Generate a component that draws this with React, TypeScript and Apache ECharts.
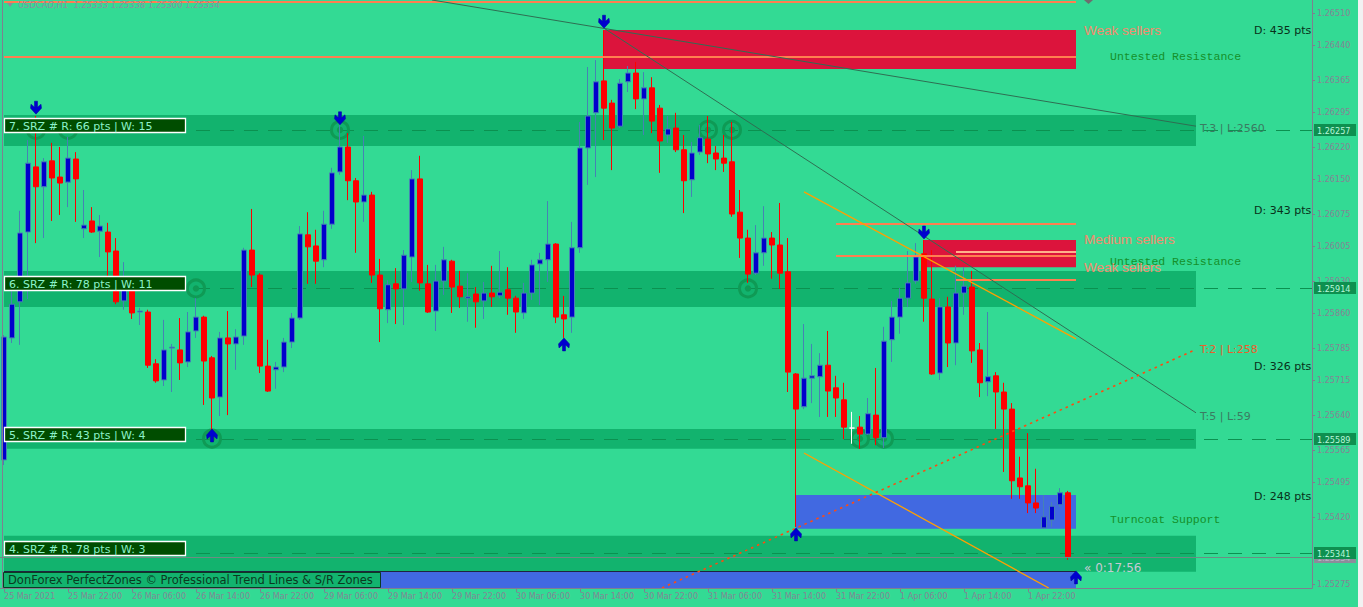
import React, { useEffect, useRef } from 'react';
import * as echarts from 'echarts';

// ---------- data ----------
const timeLabels = ['25 Mar 2021', '25 Mar 22:00', '26 Mar 06:00', '26 Mar 14:00', '26 Mar 22:00', '29 Mar 06:00', '29 Mar 14:00', '29 Mar 22:00', '30 Mar 06:00', '30 Mar 14:00', '30 Mar 22:00', '31 Mar 06:00', '31 Mar 14:00', '31 Mar 22:00', '1 Apr 06:00', '1 Apr 14:00', '1 Apr 22:00'];

const opens = [
  1.25543, 1.25807, 1.25885, 1.26036, 1.26177, 1.26134, 1.26190, 1.26155, 1.26144, 1.26194,
  1.26043, 1.26060, 1.26038, 1.26036, 1.25995, 1.25887, 1.25911, 1.25863, 1.25863, 1.25751,
  1.25716, 1.25785, 1.25781, 1.25755, 1.25822, 1.25852, 1.25764, 1.25679, 1.25807, 1.25794,
  1.25811, 1.25997, 1.25943, 1.25746, 1.25738, 1.25744, 1.25798, 1.25850, 1.26030, 1.26006,
  1.25976, 1.26053, 1.26166, 1.26220, 1.26147, 1.26101, 1.26116, 1.25943, 1.25868, 1.25924,
  1.25913, 1.25982, 1.26151, 1.25924, 1.25865, 1.25930, 1.25973, 1.25919, 1.25893, 1.25902,
  1.25887, 1.25904, 1.25898, 1.25911, 1.25893, 1.25861, 1.25904, 1.25967, 1.25976, 1.26010,
  1.25857, 1.25852, 1.26002, 1.26218, 1.26294, 1.26363, 1.26315, 1.26265, 1.26361, 1.26380,
  1.26324, 1.26348, 1.26304, 1.26246, 1.26261, 1.26214, 1.26149, 1.26209, 1.26237, 1.26207,
  1.26196, 1.26188, 1.26079, 1.26023, 1.25947, 1.25991, 1.26023, 1.26008, 1.25950, 1.25729,
  1.25658, 1.25720, 1.25723, 1.25748, 1.25699, 1.25673, 1.25612, 1.25614, 1.25599, 1.25640,
  1.25591, 1.25803, 1.25852, 1.25893, 1.25930, 1.25989, 1.25891, 1.25731, 1.25874, 1.25796,
  1.25904, 1.25917, 1.25781, 1.25712, 1.25725, 1.25690, 1.25653, 1.25504, 1.25487, 1.25450,
  1.25396, 1.25413, 1.25446, 1.25472,
];
const highs = [
  1.25813, 1.25928, 1.26082, 1.26235, 1.26287, 1.26196, 1.26229, 1.26220, 1.26242, 1.26209,
  1.26127, 1.26090, 1.26073, 1.26056, 1.26023, 1.25971, 1.25922, 1.25872, 1.25868, 1.25761,
  1.25846, 1.25794, 1.25850, 1.25863, 1.25893, 1.25855, 1.25768, 1.25820, 1.25865, 1.25826,
  1.26002, 1.26086, 1.25947, 1.25803, 1.25755, 1.25807, 1.25861, 1.26049, 1.26079, 1.26041,
  1.26082, 1.26175, 1.26268, 1.26250, 1.26153, 1.26244, 1.26123, 1.25978, 1.25932, 1.25958,
  1.25997, 1.26170, 1.26201, 1.25965, 1.25965, 1.26004, 1.25976, 1.25952, 1.25947, 1.25917,
  1.25928, 1.25963, 1.25995, 1.25960, 1.25898, 1.25926, 1.25976, 1.25991, 1.26103, 1.26012,
  1.25898, 1.26058, 1.26274, 1.26393, 1.26408, 1.26473, 1.26322, 1.26367, 1.26395, 1.26404,
  1.26382, 1.26371, 1.26311, 1.26287, 1.26294, 1.26246, 1.26231, 1.26268, 1.26287, 1.26222,
  1.26246, 1.26274, 1.26127, 1.26041, 1.26051, 1.26092, 1.26036, 1.26099, 1.26023, 1.25731,
  1.25837, 1.25794, 1.25774, 1.25822, 1.25725, 1.25710, 1.25647, 1.25638, 1.25677, 1.25742,
  1.25831, 1.25887, 1.25915, 1.25995, 1.26012, 1.26019, 1.25997, 1.25893, 1.25896, 1.25963,
  1.25960, 1.25952, 1.25796, 1.25863, 1.25733, 1.25710, 1.25666, 1.25550, 1.25601, 1.25524,
  1.25467, 1.25452, 1.25482, 1.25476,
];
const lows = [
  1.25532, 1.25796, 1.25792, 1.25891, 1.26012, 1.26023, 1.26060, 1.26073, 1.26090, 1.26058,
  1.26023, 1.26034, 1.25982, 1.25922, 1.25880, 1.25868, 1.25848, 1.25835, 1.25742, 1.25710,
  1.25703, 1.25690, 1.25716, 1.25744, 1.25807, 1.25662, 1.25608, 1.25638, 1.25640, 1.25738,
  1.25792, 1.25917, 1.25731, 1.25690, 1.25697, 1.25733, 1.25785, 1.25846, 1.25924, 1.25924,
  1.25960, 1.26043, 1.26160, 1.26105, 1.25991, 1.26058, 1.25926, 1.25798, 1.25839, 1.25837,
  1.25835, 1.25928, 1.25909, 1.25861, 1.25822, 1.25900, 1.25861, 1.25872, 1.25842, 1.25829,
  1.25848, 1.25874, 1.25893, 1.25857, 1.25818, 1.25848, 1.25889, 1.25878, 1.25928, 1.25839,
  1.25807, 1.25818, 1.25991, 1.26138, 1.26155, 1.26235, 1.26170, 1.26261, 1.26339, 1.26302,
  1.26246, 1.26250, 1.26164, 1.26229, 1.26209, 1.26077, 1.26112, 1.26203, 1.26185, 1.26170,
  1.26166, 1.26069, 1.25980, 1.25926, 1.25943, 1.25963, 1.25935, 1.25913, 1.25690, 1.25398,
  1.25653, 1.25666, 1.25636, 1.25636, 1.25636, 1.25588, 1.25578, 1.25567, 1.25597, 1.25575,
  1.25569, 1.25755, 1.25816, 1.25874, 1.25924, 1.25842, 1.25727, 1.25716, 1.25744, 1.25748,
  1.25857, 1.25753, 1.25679, 1.25681, 1.25610, 1.25517, 1.25459, 1.25459, 1.25428, 1.25428,
  1.25394, 1.25398, 1.25441, 1.25327,
];
const closes = [
  1.25809, 1.25880, 1.26034, 1.26185, 1.26134, 1.26188, 1.26153, 1.26142, 1.26196, 1.26151,
  1.26051, 1.26036, 1.26049, 1.25993, 1.25885, 1.25932, 1.25861, 1.25865, 1.25748, 1.25714,
  1.25781, 1.25787, 1.25753, 1.25820, 1.25852, 1.25757, 1.25677, 1.25807, 1.25794, 1.25809,
  1.25997, 1.25943, 1.25746, 1.25692, 1.25744, 1.25798, 1.25850, 1.26032, 1.26004, 1.25973,
  1.26053, 1.26164, 1.26220, 1.26147, 1.26101, 1.26116, 1.25943, 1.25870, 1.25922, 1.25913,
  1.25986, 1.26151, 1.25926, 1.25863, 1.25930, 1.25976, 1.25917, 1.25896, 1.25896, 1.25885,
  1.25904, 1.25896, 1.25906, 1.25893, 1.25863, 1.25904, 1.25965, 1.25976, 1.26010, 1.25852,
  1.25848, 1.26002, 1.26218, 1.26287, 1.26361, 1.26304, 1.26261, 1.26358, 1.26380, 1.26324,
  1.26348, 1.26276, 1.26233, 1.26259, 1.26214, 1.26147, 1.26207, 1.26240, 1.26205, 1.26194,
  1.26185, 1.26075, 1.26023, 1.25945, 1.25991, 1.26023, 1.26008, 1.25947, 1.25733, 1.25653,
  1.25720, 1.25725, 1.25748, 1.25692, 1.25677, 1.25614, 1.25612, 1.25599, 1.25643, 1.25591,
  1.25800, 1.25852, 1.25893, 1.25926, 1.25982, 1.25893, 1.25729, 1.25874, 1.25796, 1.25904,
  1.25919, 1.25779, 1.25710, 1.25723, 1.25690, 1.25653, 1.25498, 1.25485, 1.25450, 1.25439,
  1.25420, 1.25443, 1.25472, 1.25334,
];

const priceTicks = [1.26510, 1.26440, 1.26365, 1.26295, 1.26220, 1.26150, 1.26075, 1.26005, 1.25930, 1.25860, 1.25785, 1.25715, 1.25640, 1.25565, 1.25495, 1.25420, 1.25275];

// S/R zones
const srzLevels = [1.26257, 1.25914, 1.25589, 1.25341];
const srzTops = [1.26289, 1.25952, 1.25610, 1.25379];
const srzBottoms = [1.26222, 1.25874, 1.25567, 1.25301];
const srzEndBars = [149, 149, 149, 149];
const srzNames = ['7. SRZ # R: 66 pts | W: 15', '6. SRZ # R: 78 pts | W: 11', '5. SRZ # R: 43 pts | W: 4', '4. SRZ # R: 78 pts | W: 3'];

// zone touches
const touchBars = [4, 8, 42, 88, 91, 24, 93, 26, 107, 110];
const touchPrices = [1.26257, 1.26257, 1.26257, 1.26257, 1.26257, 1.25914, 1.25914, 1.25589, 1.25589, 1.25589];

// supply / demand boxes
const boxStartBars = [75, 115, 99, 0];
const boxEndBars = [134, 134, 134, 134];
const boxTops = [1.26473, 1.26019, 1.25467, 1.25301];
const boxBottoms = [1.26389, 1.25960, 1.25394, 1.25266];
const boxKinds = ['supply', 'supply', 'demand', 'demand'];

// horizontal levels
const levelStartBars = [0, 0, 104, 104, 119, 119];
const levelEndBars = [134, 134, 134, 134, 134, 134];
const levelPrices = [1.26533, 1.26415, 1.26053, 1.25984, 1.25993, 1.25932];

// trend lines
const trendStartBars = [53.5, 75, 100, 100, 82.25];
const trendStartPrices = [1.26538, 1.26477, 1.26123, 1.25558, 1.25266];
const trendEndBars = [149, 149, 134, 130.6, 149];
const trendEndPrices = [1.26265, 1.25645, 1.25805, 1.25266, 1.25782];
const trendKinds = ['major', 'major', 'channel', 'channel', 'dotted'];

// arrows
const downArrowBars = [4, 42, 75, 115];
const downArrowPrices = [1.26291, 1.26268, 1.26477, 1.26021];
const upArrowBars = [26, 70, 99, 134];
const upArrowPrices = [1.25610, 1.25807, 1.25396, 1.25303];

// text notes
const noteTexts = ['Weak sellers', 'D: 435 pts', 'Untested Resistance', 'D: 343 pts', 'Medium sellers', 'Untested Resistance', 'Weak sellers', 'D: 326 pts', 'D: 248 pts', 'Turncoat Support', '« 0:17:56', 'T:3 | L:2560', 'T:2 | L:258', 'T:5 | L:59'];
const noteBars = [135, 163.4, 138.25, 163.4, 135, 138.25, 135, 163.4, 163.4, 138.25, 135, 149.5, 149.5, 149.5];
const notePrices = [1.26471, 1.26471, 1.26415, 1.26082, 1.26019, 1.25973, 1.25960, 1.25746, 1.25463, 1.25415, 1.25309, 1.26261, 1.25783, 1.25638];
const noteKinds = ['seller', 'dist', 'zone', 'dist', 'seller', 'zone', 'seller', 'dist', 'dist', 'zone', 'timer', 'trendGray', 'trendRed', 'trendGray'];

const headerText = 'USDCAD,H1  1.25333 1.25338 1.25300 1.25334';
const footerText = 'DonForex PerfectZones © Professional Trend Lines & S/R Zones';

// ---------- styles ----------
const TOTAL_BARS = 164;
const PRICE_MIN = 1.25266;
const PRICE_MAX = 1.26538;
const BG = '#33DA94';
const ZONE = '#12B36E';
const ZONE_LINE = '#0B9150';
const RING = '#0F9A55';
const AXIS_GRAY = '#7E8090';
const LABEL_GRAY = '#858595';
const COND = '"DejaVu Sans Condensed", "DejaVu Sans", sans-serif';
const DEJAVU = '"DejaVu Sans", sans-serif';

const noteStyles: Record<string, any> = {
  seller: { fill: '#F38B6E', fontSize: 13.5, fontFamily: '"Liberation Sans", Arial, sans-serif', align: 'left' },
  dist: { fill: '#08301A', fontSize: 11, fontFamily: DEJAVU, align: 'right' },
  zone: { fill: '#15902A', fontSize: 11.5, fontFamily: '"Liberation Mono", "DejaVu Sans Mono", monospace', align: 'left' },
  timer: { fill: '#C6CAD4', fontSize: 12, fontFamily: DEJAVU, align: 'left' },
  trendGray: { fill: '#3B7B62', fontSize: 11, fontFamily: DEJAVU, align: 'left' },
  trendRed: { fill: '#EC5F2C', fontSize: 11, fontFamily: DEJAVU, align: 'left' },
};

function pt(api: any, bar: number, price: number): number[] {
  const bw = api.size([1, 0])[0];
  const c = api.coord([0, price]);
  return [c[0] + bar * bw, c[1]];
}
const crisp = (v: number) => Math.round(v) + 0.5;

function arrowPoints(x: number, y: number, dir: number): number[][] {
  const s = dir;
  return [
    [x - 1.5, y - 13 * s], [x + 1.5, y - 13 * s], [x + 1.5, y - 7 * s], [x + 5, y - 10 * s],
    [x + 5.5, y - 6 * s], [x, y], [x - 5.5, y - 6 * s], [x - 5, y - 10 * s], [x - 1.5, y - 7 * s],
  ];
}

function buildOption(): any {
  const categories = Array.from({ length: TOTAL_BARS }, (_, i) => String(i));
  const labelInterval = (idx: number) => idx % 8 === 0 && idx / 8 < timeLabels.length;
  const candles = opens.map((o, i) => [o, closes[i], lows[i], highs[i]]);
  const bid = closes[closes.length - 1];

  return {
    animation: false,
    backgroundColor: BG,
    grid: { left: -1, right: 51, top: 0, bottom: 19, containLabel: false },
    xAxis: {
      type: 'category',
      data: categories,
      boundaryGap: true,
      axisLine: { show: true, lineStyle: { color: AXIS_GRAY } },
      axisTick: { show: true, alignWithLabel: true, interval: labelInterval, length: 4, lineStyle: { color: AXIS_GRAY } },
      axisLabel: {
        interval: labelInterval,
        formatter: (_v: string, idx: number) => timeLabels[idx / 8] || '',
        align: 'left', color: LABEL_GRAY, fontSize: 9, fontFamily: COND, margin: 3,
      },
      splitLine: { show: false },
    },
    yAxis: {
      type: 'value', position: 'right', min: PRICE_MIN, max: PRICE_MAX, scale: true,
      splitLine: { show: false },
      axisLine: { show: true, lineStyle: { color: AXIS_GRAY } },
      axisTick: { show: true, length: 3, customValues: priceTicks, lineStyle: { color: AXIS_GRAY } },
      axisLabel: {
        customValues: priceTicks, formatter: (v: number) => v.toFixed(5),
        color: LABEL_GRAY, fontSize: 9, fontFamily: COND, margin: 5,
      },
    },
    graphic: [
      { type: 'line', z: 50, shape: { x1: 2.5, y1: 0, x2: 2.5, y2: 588 }, style: { stroke: AXIS_GRAY, lineWidth: 1 } },
      { type: 'polygon', z: 50, shape: { points: [[7, 3], [13, 3], [10, 7]] }, style: { fill: '#8A8C9C' } },
      { type: 'text', z: 50, x: 18, y: 0, style: { text: headerText, fill: '#8C8EA0', fontSize: 9.3, fontFamily: COND } },
      { type: 'polygon', z: 50, shape: { points: [[1084, 0], [1093, 0], [1088.5, 4]] }, style: { fill: '#6E6E6E' } },
      {
        type: 'group', z: 50, x: 3, y: 572,
        children: [
          { type: 'rect', z: 50, shape: { x: 0.5, y: 0.5, width: 377, height: 15 }, style: { fill: ZONE, stroke: '#0C3A22', lineWidth: 1 } },
          { type: 'text', z: 51, x: 5, y: 8, style: { text: footerText, fill: '#0A3A20', fontSize: 11.5, fontFamily: DEJAVU, verticalAlign: 'middle' } },
        ],
      },
      { type: 'rect', z: 50, shape: { x: 1358, y: 0, width: 5, height: 607 }, style: { fill: '#F2F2F2' } },
    ],
    series: [
      // S/R zones
      {
        type: 'custom', z: 1, silent: true, clip: true,
        data: srzLevels.map((lv, k) => [0, lv, srzTops[k], srzBottoms[k], srzEndBars[k]]),
        renderItem: (_p: any, api: any) => {
          const a = pt(api, api.value(0), api.value(2));
          const b = pt(api, api.value(4), api.value(3));
          return { type: 'rect', shape: { x: a[0], y: a[1], width: b[0] - a[0], height: b[1] - a[1] }, style: { fill: ZONE } };
        },
      },
      // supply/demand boxes
      {
        type: 'custom', z: 1, silent: true, clip: true,
        data: boxTops.map((t, k) => [boxStartBars[k], t, boxBottoms[k], boxEndBars[k]]),
        renderItem: (params: any, api: any) => {
          const k = params.dataIndex;
          const a = pt(api, api.value(0), api.value(1));
          const b = pt(api, api.value(3), api.value(2));
          const fill = boxKinds[k] === 'supply' ? '#DC143C' : '#4169E1';
          const children: any[] = [
            { type: 'rect', shape: { x: a[0], y: a[1], width: b[0] - a[0], height: b[1] - a[1] }, style: { fill } },
          ];
          if (boxStartBars[k] === 0) {
            children.push({ type: 'line', shape: { x1: a[0], y1: crisp(a[1]) - 1, x2: b[0], y2: crisp(a[1]) - 1 }, style: { stroke: '#1E2440', lineWidth: 1 } });
          }
          return { type: 'group', children };
        },
      },
      // dashed zone centre lines
      {
        type: 'custom', z: 2, silent: true, clip: true,
        data: srzLevels.map((lv) => [0, lv]),
        renderItem: (params: any, api: any) => {
          const cs = params.coordSys;
          const a = pt(api, api.value(0), api.value(1));
          const y = crisp(a[1]);
          return { type: 'line', shape: { x1: a[0], y1: y, x2: cs.x + cs.width, y2: y }, style: { stroke: ZONE_LINE, lineWidth: 1, lineDash: [14, 10] } };
        },
      },
      // touch rings
      {
        type: 'custom', z: 2, silent: true, clip: true,
        data: touchBars.map((b, k) => [b, touchPrices[k]]),
        renderItem: (_p: any, api: any) => {
          const c = pt(api, api.value(0), api.value(1));
          return {
            type: 'group',
            children: [
              { type: 'circle', shape: { cx: c[0], cy: c[1], r: 8.5 }, style: { fill: 'none', stroke: RING, lineWidth: 3 } },
              { type: 'circle', shape: { cx: c[0], cy: c[1], r: 3.2 }, style: { fill: RING } },
            ],
          };
        },
      },
      // candles
      {
        type: 'candlestick', z: 3, silent: true,
        barWidth: 5,
        data: candles,
        itemStyle: {
          color: '#0000CC', color0: '#FF0000',
          borderColor: '#4682B4', borderColor0: '#FF0000',
          borderColorDoji: '#FFFFFF', borderWidth: 1,
        },
      },
      // horizontal level lines
      {
        type: 'custom', z: 4, silent: true, clip: true,
        data: levelPrices.map((p, k) => [levelStartBars[k], p, levelEndBars[k]]),
        renderItem: (params: any, api: any) => {
          const k = params.dataIndex;
          const a = pt(api, api.value(0), api.value(1));
          const b = pt(api, api.value(2), api.value(1));
          const y = Math.round(a[1]);
          return { type: 'line', shape: { x1: a[0], y1: y, x2: b[0], y2: y }, style: { stroke: k === 4 ? '#FFB08A' : '#FF7F50', lineWidth: 2 } };
        },
      },
      // bid line
      {
        type: 'custom', z: 4, silent: true, clip: true,
        data: [[0, bid]],
        renderItem: (params: any, api: any) => {
          const cs = params.coordSys;
          const a = pt(api, api.value(0), api.value(1));
          const y = crisp(a[1]);
          return { type: 'line', shape: { x1: cs.x, y1: y, x2: cs.x + cs.width, y2: y }, style: { stroke: '#6E8C82', lineWidth: 1 } };
        },
      },
      // trend lines
      {
        type: 'custom', z: 4, silent: true, clip: true,
        data: trendStartBars.map((b, k) => [b, trendStartPrices[k], trendEndBars[k], trendEndPrices[k]]),
        renderItem: (params: any, api: any) => {
          const kind = trendKinds[params.dataIndex];
          const a = pt(api, api.value(0), api.value(1));
          const b = pt(api, api.value(2), api.value(3));
          let style: any = { stroke: '#2F6E52', lineWidth: 1 };
          if (kind === 'channel') style = { stroke: '#FFA000', lineWidth: 1.3 };
          if (kind === 'dotted') style = { stroke: '#FF4A10', lineWidth: 1.6, lineDash: [2.5, 4] };
          return { type: 'line', shape: { x1: a[0], y1: a[1], x2: b[0], y2: b[1] }, style };
        },
      },
      // arrows
      {
        type: 'custom', z: 5, silent: true, clip: false,
        data: [
          ...downArrowBars.map((b, k) => [b, downArrowPrices[k], 1]),
          ...upArrowBars.map((b, k) => [b, upArrowPrices[k], -1]),
        ],
        renderItem: (_p: any, api: any) => {
          const c = pt(api, api.value(0), api.value(1));
          return { type: 'polygon', shape: { points: arrowPoints(c[0], c[1], api.value(2)) }, style: { fill: '#0000D0', stroke: '#0000A0', lineWidth: 0.5 } };
        },
      },
      // SRZ label boxes
      {
        type: 'custom', z: 6, silent: true, clip: false,
        data: srzLevels.map((lv) => [0, lv]),
        renderItem: (params: any, api: any) => {
          const a = pt(api, api.value(0), api.value(1));
          const top = Math.round(a[1]) - 11.5;
          return {
            type: 'group',
            children: [
              { type: 'rect', shape: { x: a[0] + 0.5, y: top, width: 181, height: 14 }, style: { fill: '#004D00', stroke: '#FFFFFF', lineWidth: 1.3 } },
              { type: 'text', x: a[0] + 5, y: top + 7.5, style: { text: srzNames[params.dataIndex], fill: '#8CF2CB', fontSize: 11, fontFamily: DEJAVU, verticalAlign: 'middle', align: 'left' } },
            ],
          };
        },
      },
      // notes
      {
        type: 'custom', z: 6, silent: true, clip: false,
        data: noteBars.map((b, k) => [b, notePrices[k]]),
        renderItem: (params: any, api: any) => {
          const k = params.dataIndex;
          const c = pt(api, api.value(0), api.value(1));
          const st = noteStyles[noteKinds[k]];
          return { type: 'text', x: c[0], y: c[1], style: { text: noteTexts[k], fill: st.fill, fontSize: st.fontSize, fontFamily: st.fontFamily, align: st.align, verticalAlign: 'middle' } };
        },
      },
      // price boxes on the axis
      {
        type: 'custom', z: 7, silent: true, clip: false,
        data: [[0, bid], ...srzLevels.map((lv) => [0, lv])],
        renderItem: (params: any, api: any) => {
          const cs = params.coordSys;
          const c = pt(api, api.value(0), api.value(1));
          const gray = params.dataIndex === 0;
          const x = cs.x + cs.width + 2;
          const y = Math.round(c[1]) - 6;
          return {
            type: 'group',
            children: [
              { type: 'rect', shape: { x, y, width: 42, height: 12 }, style: { fill: gray ? '#8C8C9A' : '#0E9050' } },
              { type: 'text', x: x + 3, y: y + 6.5, style: { text: api.value(1).toFixed(5), fill: gray ? '#B4B4C4' : '#B8F7DA', fontSize: 9, fontFamily: COND, verticalAlign: 'middle', align: 'left' } },
            ],
          };
        },
      },
    ],
  };
}

export default function App() {
  const ref = useRef<HTMLDivElement>(null);
  useEffect(() => {
    if (!ref.current) return;
    const chart = echarts.init(ref.current, null, { renderer: 'svg' });
    chart.setOption(buildOption());
    return () => chart.dispose();
  }, []);
  return <div ref={ref} style={{ position: 'fixed', left: 0, top: 0, width: 1363, height: 607 }} />;
}
